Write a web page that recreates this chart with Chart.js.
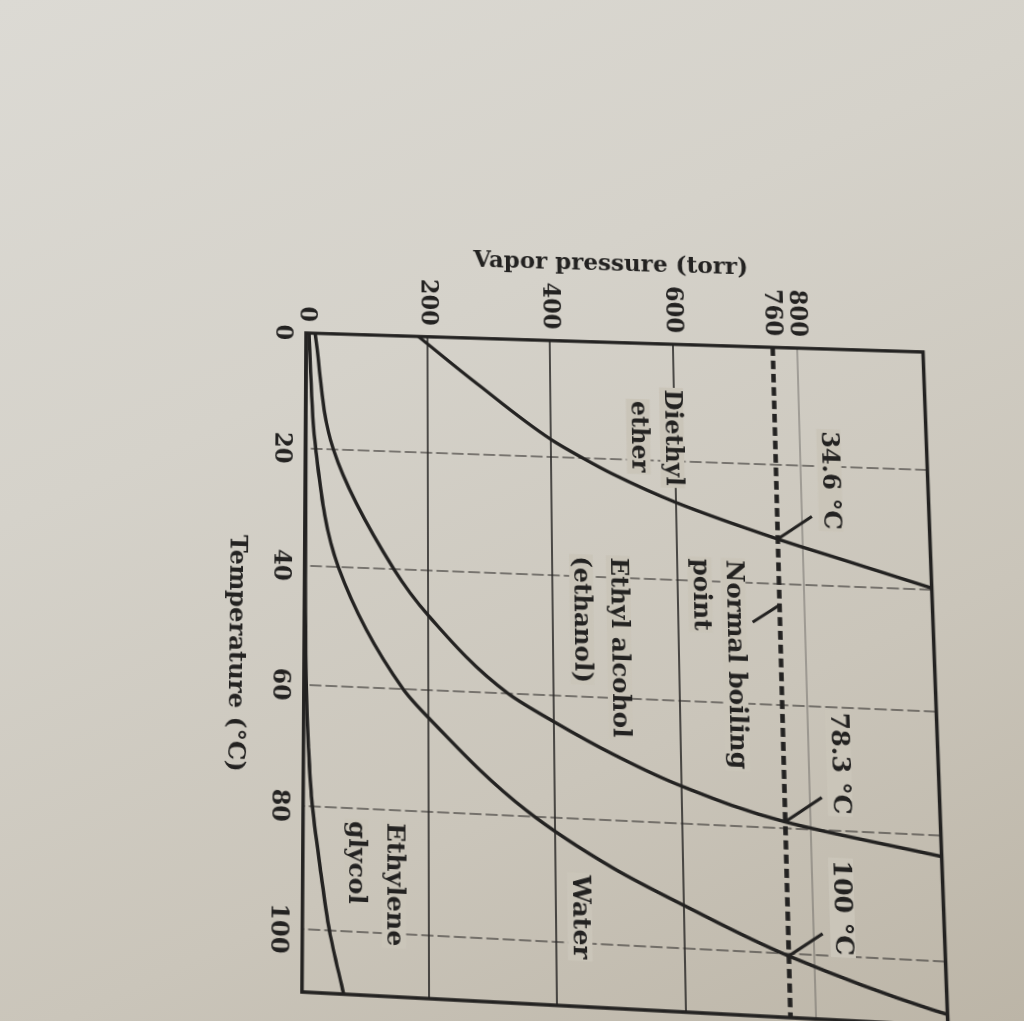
<!DOCTYPE html>
<html>
<head>
<meta charset="utf-8">
<script src="https://cdn.jsdelivr.net/npm/chart.js@4.4.1/dist/chart.umd.min.js"></script>
<style>
    html, body {
        margin: 0;
        width: 1024px;
        height: 1021px;
        overflow: hidden;
        background: linear-gradient(155deg, #dcdad4 0%, #d5d2ca 35%, #cac5ba 70%, #bcb5a7 100%);
    }
    #wrap {
        position: absolute;
        left: 0;
        top: 0;
    }
    #vaporChart {
        filter: blur(0.5px);
    }
</style>
</head>
<body>
<div id="wrap"><canvas id="vaporChart" width="800" height="750"></canvas></div>
<script>
// temperature (°C) / vapor pressure (torr)
const etherT = [0, 7.8, 17, 20, 22.5, 27, 32.5, 35.5, 40];
const etherP = [185, 280, 400, 451, 498, 600, 760, 860, 1010];

const ethanolT = [0, 20, 40, 47.5, 60, 64.3, 69.3, 73.9, 78.9, 83.3];
const ethanolP = [15, 46, 145, 200, 328, 400, 495, 600, 760, 1000];

const waterT = [0, 20, 40, 60, 64.5, 79, 87.7, 93.1, 100.3, 107.6, 110];
const waterP = [5, 17, 55, 160, 200, 355, 491, 600, 760, 977, 1075];

const glycolT = [0, 40, 60, 70, 79, 90, 100, 110];
const glycolP = [0.5, 1.5, 4, 8, 14, 28, 43, 66];

// normal boiling point line
const boilT = [0, 110];
const boilP = [760, 760];

// little pointer strokes
const etherMarkT = [32.5, 28.5];
const etherMarkP = [760, 815];
const ethanolMarkT = [78.9, 74.7];
const ethanolMarkP = [760, 818];
const waterMarkT = [100.3, 96.5];
const waterMarkP = [760, 813];
const boilMarkT = [46.5, 43.5];
const boilMarkP = [717, 760];

const xTicks = [0, 20, 40, 60, 80, 100];
const yTicks = [0, 200, 400, 600, 760, 800];

// text on the plot: t = temperature, p = pressure of each line
const notes = [
    { t: 22.3, p: [845], lines: ["34.6 °C"], align: "center" },
    { t: 69, p: [846], lines: ["78.3 °C"], align: "center" },
    { t: 92.2, p: [844], lines: ["100 °C"], align: "center" },
    { t: 16, p: [595, 541], lines: ["Diethyl", "ether"], align: "center" },
    { t: 36.3, p: [688, 635], lines: ["Normal boiling", "point"], align: "left" },
    { t: 36.6, p: [505, 446], lines: ["Ethyl alcohol", "(ethanol)"], align: "left" },
    { t: 89, p: [437], lines: ["Water"], align: "left" },
    { t: 82, p: [145, 85], lines: ["Ethylene", "glycol"], align: "left" }
];

const ink = "#232221";
const paper = "#cac5b9";
const serif = "'DejaVu Serif', 'Liberation Serif', serif";

function points(xs, ys) {
    return xs.map((x, i) => ({ x: x, y: ys[i] }));
}

function curve(xs, ys) {
    return {
        data: points(xs, ys),
        showLine: true,
        borderColor: ink,
        borderWidth: 3.5,
        pointRadius: 0,
        cubicInterpolationMode: "monotone",
        tension: 0.4
    };
}

function mark(xs, ys) {
    return {
        data: points(xs, ys),
        showLine: true,
        borderColor: ink,
        borderWidth: 3,
        pointRadius: 0
    };
}

const notesPlugin = {
    id: "notes",
    beforeDatasetsDraw(chart) {
        const ctx = chart.ctx;
        const x = chart.scales.x;
        const y = chart.scales.y;
        ctx.save();
        ctx.font = "bold 25px " + serif;
        ctx.textBaseline = "middle";
        notes.forEach(n => {
            n.lines.forEach((line, i) => {
                const w = ctx.measureText(line).width;
                let px = x.getPixelForValue(n.t);
                if (n.align === "center") {
                    px -= w / 2;
                }
                const py = y.getPixelForValue(n.p[i]);
                ctx.fillStyle = paper;
                ctx.fillRect(px - 2, py - 12, w + 4, 24);
                ctx.fillStyle = ink;
                ctx.fillText(line, px, py);
            });
        });
        ctx.restore();
    },
    afterDatasetsDraw(chart) {
        const a = chart.chartArea;
        const ctx = chart.ctx;
        ctx.save();
        ctx.strokeStyle = ink;
        ctx.lineWidth = 3.5;
        ctx.strokeRect(a.left, a.top, a.right - a.left, a.bottom - a.top);
        ctx.restore();
    }
};

const canvas = document.getElementById("vaporChart");

const chart = new Chart(canvas, {
    type: "scatter",
    data: {
        datasets: [
            curve(etherT, etherP),
            curve(ethanolT, ethanolP),
            curve(waterT, waterP),
            curve(glycolT, glycolP),
            {
                data: points(boilT, boilP),
                showLine: true,
                borderColor: ink,
                borderWidth: 4.5,
                borderDash: [9, 5],
                pointRadius: 0
            },
            mark(etherMarkT, etherMarkP),
            mark(ethanolMarkT, ethanolMarkP),
            mark(waterMarkT, waterMarkP),
            mark(boilMarkT, boilMarkP)
        ]
    },
    options: {
        responsive: false,
        animation: false,
        layout: {
            padding: { left: 10, right: 20, top: 20, bottom: 10 }
        },
        plugins: {
            legend: { display: false },
            tooltip: { enabled: false }
        },
        scales: {
            x: {
                type: "linear",
                min: 0,
                max: 110,
                afterBuildTicks: scale => {
                    scale.ticks = xTicks.map(v => ({ value: v }));
                },
                grid: {
                    color: c => (c.tick && c.tick.value === 0) ? "transparent" : "rgba(70, 68, 64, 0.65)",
                    lineWidth: 2,
                    drawTicks: false
                },
                border: { display: false, dash: [12, 4] },
                ticks: {
                    padding: 10,
                    autoSkip: false,
                    maxRotation: 0,
                    color: ink,
                    font: { family: serif, size: 24, weight: "bold" }
                },
                title: {
                    display: true,
                    text: "Temperature (°C)",
                    color: ink,
                    padding: { top: 5, bottom: 4 },
                    font: { family: serif, size: 25, weight: "bold" }
                }
            },
            y: {
                type: "linear",
                min: 0,
                max: 1000,
                afterBuildTicks: scale => {
                    scale.ticks = yTicks.map(v => ({ value: v }));
                },
                grid: {
                    color: c => {
                        const v = c.tick ? c.tick.value : 0;
                        if (v === 0 || v === 760) return "transparent";
                        if (v === 800) return "rgba(90, 88, 84, 0.4)";
                        return "rgba(40, 39, 37, 0.8)";
                    },
                    lineWidth: 2,
                    drawTicks: false
                },
                border: { display: false },
                ticks: {
                    padding: 12,
                    autoSkip: false,
                    color: ink,
                    font: { family: serif, size: 24, weight: "bold" }
                },
                title: {
                    display: true,
                    text: "Vapor pressure (torr)",
                    color: ink,
                    padding: 0,
                    font: { family: serif, size: 23.5, weight: "bold", lineHeight: 0.8 }
                }
            }
        }
    },
    plugins: [notesPlugin]
});

// the printed page is photographed turned a quarter turn and a bit skewed:
// map the plot frame onto the frame corners seen in the photo
function homography(src, dst) {
    const A = [];
    const b = [];
    for (let i = 0; i < 4; i++) {
        const [x, y] = src[i];
        const [u, v] = dst[i];
        A.push([x, y, 1, 0, 0, 0, -x * u, -y * u]);
        b.push(u);
        A.push([0, 0, 0, x, y, 1, -x * v, -y * v]);
        b.push(v);
    }
    for (let c = 0; c < 8; c++) {
        let p = c;
        for (let r = c + 1; r < 8; r++) {
            if (Math.abs(A[r][c]) > Math.abs(A[p][c])) p = r;
        }
        [A[c], A[p]] = [A[p], A[c]];
        [b[c], b[p]] = [b[p], b[c]];
        for (let r = 0; r < 8; r++) {
            if (r === c) continue;
            const f = A[r][c] / A[c][c];
            for (let k = c; k < 8; k++) A[r][k] -= f * A[c][k];
            b[r] -= f * b[c];
        }
    }
    return b.map((v, i) => v / A[i][i]);
}

const area = chart.chartArea;
const frameSrc = [
    [area.left, area.bottom],
    [area.left, area.top],
    [area.right, area.bottom],
    [area.right, area.top]
];
const frameDst = [[306, 333], [923, 352], [302, 992], [948, 1026]];
const h = homography(frameSrc, frameDst);

canvas.style.transformOrigin = "0 0";
canvas.style.transform = "matrix3d(" + [
    h[0], h[3], 0, h[6],
    h[1], h[4], 0, h[7],
    0, 0, 1, 0,
    h[2], h[5], 0, 1
].join(",") + ")";
</script>
</body>
</html>
